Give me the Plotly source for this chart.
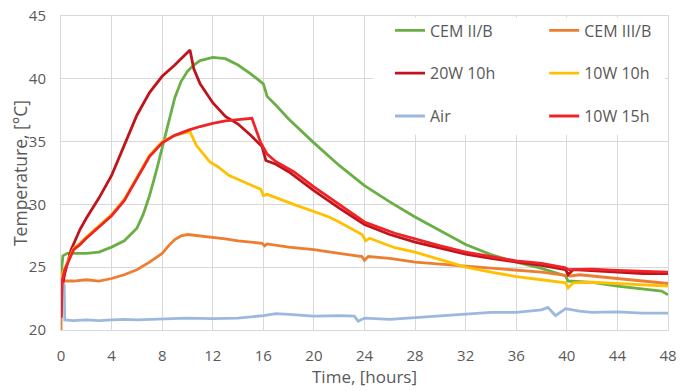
import plotly.graph_objects as go

# ---------------- data ----------------
x_ticks = [0, 4, 8, 12, 16, 20, 24, 28, 32, 36, 40, 44, 48]
y_ticks = [20, 25, 30, 35, 40, 45]

cem2_t = [0, 0.15, 0.5, 1, 2, 3, 4, 5, 6, 6.5, 7, 7.5, 8, 8.5, 9, 9.5, 10, 10.5, 11, 12, 13, 14, 15, 16,
          16.3, 17, 18, 20, 22, 24, 26, 28, 30, 32, 34, 36, 38, 39.9, 40.1, 42, 44, 46, 47.5, 48]
cem2_v = [24.3, 25.9, 26.1, 26.1, 26.1, 26.2, 26.6, 27.1, 28.1, 29.2, 30.7, 32.5, 34.5, 36.7, 38.5, 39.8,
          40.6, 41.1, 41.45, 41.7, 41.6, 41.1, 40.4, 39.6, 38.6, 37.9, 36.8, 34.9, 33.1, 31.5, 30.2, 29.0,
          27.9, 26.8, 26.0, 25.4, 24.9, 24.3, 23.9, 23.8, 23.5, 23.3, 23.1, 22.8]

cem3_t = [0, 0.05, 0.3, 1, 2, 3, 4, 5, 6, 7, 8, 8.5, 9, 9.5, 10, 11, 12, 13, 14, 15.9, 16.1, 16.3, 18, 20,
          22, 23.8, 24, 24.3, 26, 28, 30, 32, 34, 36, 38, 39.9, 40.3, 41, 42, 44, 46, 48]
cem3_v = [20.0, 23.8, 23.9, 23.9, 24.0, 23.9, 24.1, 24.4, 24.8, 25.4, 26.1, 26.7, 27.2, 27.5, 27.6, 27.5,
          27.35, 27.25, 27.1, 26.9, 26.7, 26.85, 26.6, 26.4, 26.1, 25.85, 25.55, 25.85, 25.7, 25.4, 25.25,
          25.1, 24.95, 24.8, 24.6, 24.35, 24.3, 24.4, 24.3, 24.05, 23.85, 23.7]

w20h10_t = [0, 0.1, 0.3, 0.8, 1.5, 2, 3, 4, 5, 6, 7, 8, 9, 10.2, 10.5, 11, 12, 13, 14, 15, 15.9, 16.2, 17,
            18, 20, 22, 24, 26, 28, 30, 32, 34, 36, 38, 39.9, 40.1, 40.5, 42, 44, 46, 48]
w20h10_v = [21.0, 23.5, 24.5, 26.4, 28.0, 28.9, 30.5, 32.3, 34.7, 37.1, 38.9, 40.2, 41.1, 42.3, 40.8, 39.6,
            38.1, 37.0, 36.4, 35.5, 34.6, 33.5, 33.2, 32.6, 31.1, 29.7, 28.4, 27.6, 27.0, 26.5, 26.05, 25.7,
            25.4, 25.15, 24.8, 24.4, 24.8, 24.7, 24.6, 24.5, 24.5]

w10h10_t = [0, 0.3, 1, 1.5, 2, 3, 4, 5, 6, 7, 8, 9, 10.2, 10.7, 11.75, 12.4, 13.3, 14, 15.8, 16, 16.3, 18.4,
            20, 21.2, 22, 23.8, 24.1, 24.4, 26.4, 28, 30, 32, 34, 36, 38, 39.9, 40.1, 40.5, 42, 44, 46, 48]
w10h10_v = [24.2, 24.9, 26.5, 26.9, 27.4, 28.3, 29.2, 30.4, 32.2, 33.9, 35.0, 35.5, 35.8, 34.7, 33.4, 33.0,
            32.3, 32.0, 31.2, 30.7, 30.8, 30.0, 29.4, 29.0, 28.6, 27.6, 27.1, 27.3, 26.55, 26.2, 25.6, 25.0,
            24.6, 24.25, 24.0, 23.75, 23.35, 23.75, 23.8, 23.7, 23.6, 23.5]

air_t = [0, 0.25, 0.3, 1, 2, 3, 4, 5, 6, 8, 10, 12, 14, 16, 17, 18, 20, 22, 23.2, 23.5, 24, 26, 28, 30, 32,
         34, 36, 38, 38.5, 39.1, 39.9, 41, 42, 44, 46, 48]
air_v = [23.8, 23.6, 20.8, 20.75, 20.8, 20.75, 20.8, 20.85, 20.8, 20.9, 20.95, 20.9, 20.95, 21.15, 21.3,
         21.25, 21.1, 21.15, 21.1, 20.7, 20.95, 20.85, 21.0, 21.1, 21.3, 21.4, 21.4, 21.6, 21.8, 21.15, 21.7,
         21.5, 21.4, 21.45, 21.35, 21.35]

w10h15_t = [0, 0.1, 0.3, 1, 1.5, 2, 3, 4, 5, 6, 7, 8, 9, 10.2, 11, 12, 13, 14, 15.1, 15.8, 16.3, 17, 18.4,
            20, 21.2, 22, 23.8, 24, 26.4, 28, 30, 32, 34, 36, 38, 39.9, 40.1, 42, 44, 46, 48]
w10h15_v = [21.0, 24.0, 24.8, 26.4, 26.8, 27.3, 28.2, 29.1, 30.3, 32.1, 33.8, 34.9, 35.5, 35.95, 36.2, 36.45,
            36.65, 36.75, 36.85, 34.9, 34.0, 33.4, 32.6, 31.4, 30.55, 30.0, 28.75, 28.6, 27.7, 27.25, 26.7,
            26.2, 25.85, 25.5, 25.3, 24.95, 24.8, 24.85, 24.75, 24.7, 24.6]

series = [
    ("CEM II/B", cem2_t, cem2_v, "#6AAF45", "legend"),
    ("CEM III/B", cem3_t, cem3_v, "#ED7D31", "legend2"),
    ("20W 10h", w20h10_t, w20h10_v, "#C0141C", "legend"),
    ("10W 10h", w10h10_t, w10h10_v, "#FFC000", "legend2"),
    ("Air", air_t, air_v, "#9DB8DF", "legend"),
    ("10W 15h", w10h15_t, w10h15_v, "#EF2429", "legend2"),
]

FONT = "Open Sans"
GREY = "#595959"
GRID = "#D9D9D9"

fig = go.Figure()
for name, t, v, col, lg in series:
    fig.add_trace(go.Scatter(x=t, y=v, mode="lines", name=name, legend=lg, legendgroup=name,
                             line=dict(color=col, width=2.8)))

legend_common = dict(font=dict(family=FONT, size=16, color=GREY), bgcolor="rgba(0,0,0,0)",
                     tracegroupgap=19, xanchor="left", yanchor="top", orientation="v")

# the page body adds an 8 px offset; figure sized so everything stays visible in the window
fig.update_layout(
    width=677, height=383,
    margin=dict(l=53, r=17, t=8, b=61, autoexpand=False),
    paper_bgcolor="white", plot_bgcolor="white",
    font=dict(family=FONT, size=16, color=GREY),
    legend=dict(x=0.542, y=1.008, **legend_common),
    legend2=dict(x=0.796, y=1.008, **legend_common),
    shapes=[dict(type="rect", xref="paper", yref="paper", x0=0.514, x1=0.995, y0=0.622, y1=0.995,
                 fillcolor="white", line=dict(width=0), layer="above")],
)
fig.update_xaxes(range=[0, 48], tickvals=x_ticks, showgrid=True, gridcolor=GRID, gridwidth=1,
                 showline=True, linecolor=GRID, linewidth=1, mirror=True, zeroline=False,
                 ticks="", ticklabelstandoff=12, automargin=False, ticklabeloverflow="allow",
                 tickfont=dict(family=FONT, size=15, color=GREY),
                 title=dict(text="Time, [hours]", font=dict(family=FONT, size=17, color=GREY), standoff=5))
fig.update_yaxes(range=[20, 45], tickvals=y_ticks, showgrid=True, gridcolor=GRID, gridwidth=1,
                 showline=True, linecolor=GRID, linewidth=1, mirror=True, zeroline=False,
                 ticks="", ticklabelstandoff=11, automargin=False, ticklabeloverflow="allow",
                 tickfont=dict(family=FONT, size=15, color=GREY),
                 title=dict(text="Temperature, [°C]", font=dict(family=FONT, size=17.5, color=GREY), standoff=14))

fig.write_html("out.html")
